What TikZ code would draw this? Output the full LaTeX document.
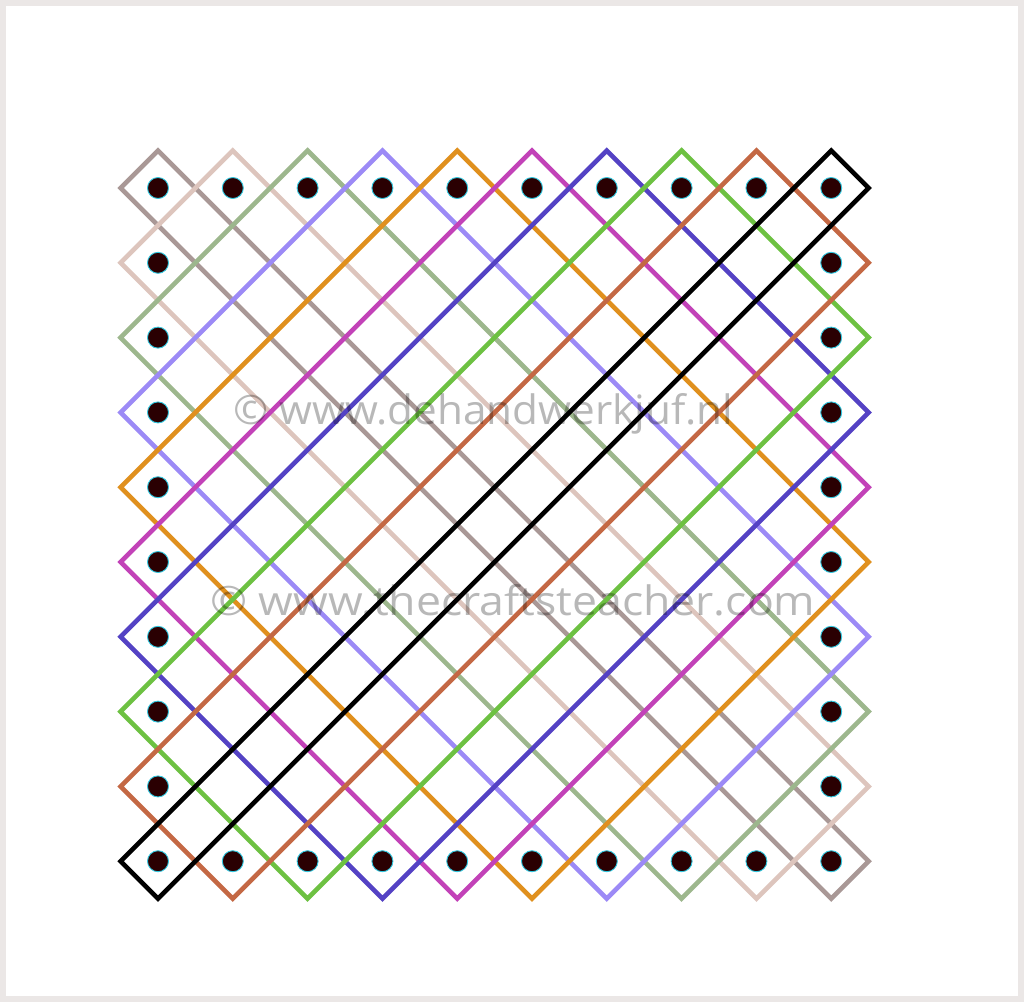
\documentclass[tikz,border=0pt]{standalone}
\usepackage{fontspec}
\newfontfamily\wmfont{Open Sans}
\usetikzlibrary{calc}
\definecolor{framec}{HTML}{EBE7E6}
\definecolor{dotc}{HTML}{2A0002}
\definecolor{dotrim}{HTML}{30C8E0}
\definecolor{c0}{HTML}{A99896}
\definecolor{c1}{HTML}{DDC5BD}
\definecolor{c2}{HTML}{9DB78D}
\definecolor{c3}{HTML}{9C8AF6}
\definecolor{c4}{HTML}{E0901E}
\definecolor{c5}{HTML}{C242B8}
\definecolor{c6}{HTML}{5442C4}
\definecolor{c7}{HTML}{6DC142}
\definecolor{c8}{HTML}{C46844}
\definecolor{c9}{HTML}{000000}
\begin{document}
\begin{tikzpicture}[x=1pt,y=-1pt,
  dot/.style={circle,fill=dotc,draw=dotrim,line width=0.9pt,minimum size=21pt,inner sep=0pt},
  loopline/.style={line width=4.6pt,line join=miter},
  watermark/.style={inner sep=0pt,text=black,text opacity=0.28,font=\wmfont}]
\useasboundingbox (0,0) rectangle (1024,1002);
\fill[framec] (0,0) rectangle (1024,1002);
\fill[white] (5.5,5.5) rectangle (1018,996);
\def\s{74.8}
\def\h{37.4}
% grid coordinates
\foreach \i in {0,...,9}{
  \foreach \j in {0,...,9}{
    \coordinate (p-\i-\j) at (158+\s*\i,188+\s*\j);
  }
}
% loops
\foreach \k in {0,...,9}{
  \pgfmathtruncatemacro{\m}{9-\k}
  \draw[loopline,draw=c\k]
    ($(p-\k-0)+(0,-\h)$) -- ($(p-0-\k)+(-\h,0)$) --
    ($(p-\m-9)+(0,\h)$) -- ($(p-9-\m)+(\h,0)$) -- cycle;
}
% dots on the perimeter
\foreach \i in {0,...,9}{
  \node[dot] (d-\i-0) at (p-\i-0) {};
  \node[dot] (d-\i-9) at (p-\i-9) {};
}
\foreach \j in {1,...,8}{
  \node[dot] (d-0-\j) at (p-0-\j) {};
  \node[dot] (d-9-\j) at (p-9-\j) {};
}
% watermarks
\node[watermark,anchor=base west] (wm1) at (233,424) {\resizebox{500pt}{31pt}{© www.dehandwerkjuf.nl}};
\node[watermark,anchor=base west] (wm2) at (210,615) {\resizebox{605pt}{31pt}{© www.thecraftsteacher.com}};
\end{tikzpicture}
\end{document}
